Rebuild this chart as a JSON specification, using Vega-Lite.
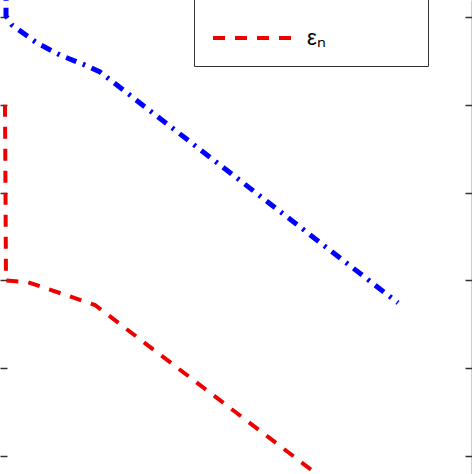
{
  "$schema": "https://vega.github.io/schema/vega-lite/v6.json",
  "width": 472,
  "height": 474,
  "autosize": {"type": "none"},
  "padding": 0,
  "background": "white",
  "config": {"view": {"stroke": null}},
  "data": {
    "values": [
      {"series": "ε", "x": 6, "y": 5.42},
      {"series": "ε", "x": 6, "y": 5.011},
      {"series": "ε", "x": 12, "y": 4.909},
      {"series": "ε", "x": 37, "y": 4.704},
      {"series": "ε", "x": 60, "y": 4.567},
      {"series": "ε", "x": 85, "y": 4.453},
      {"series": "ε", "x": 100, "y": 4.374},
      {"series": "ε", "x": 398, "y": 1.744},
      {"series": "εₙ", "x": 5, "y": 4.0},
      {"series": "εₙ", "x": 6, "y": 2.0},
      {"series": "εₙ", "x": 28, "y": 1.98},
      {"series": "εₙ", "x": 95, "y": 1.72},
      {"series": "εₙ", "x": 315, "y": -0.19},
      {"series": "εₙ", "x": 330, "y": -0.33}
    ]
  },
  "encoding": {
    "x": {"field": "x", "type": "quantitative", "scale": {"domain": [0, 472], "nice": false, "zero": false}, "axis": null},
    "color": {
      "field": "series", "type": "nominal",
      "scale": {"domain": ["ε", "εₙ"], "range": ["#0000ff", "#ee0000"]},
      "legend": {
        "values": ["εₙ"],
        "orient": "none",
        "legendX": 194,
        "legendY": -36,
        "title": "\u2800\u2800\u2800\u2800\u2800\u2800\u2800\u2800\u2800\u2800\u2800\u2800\u2800\u2800\u2800\u2800\u2800\u2800\u2800\u2800\u2800\u2800\u2800\u2800\u2800\u2800\u2800\u2800\u2800\u2800\u2800\u2800\u2800\u2800\u2800\u2800\u2800\u2800\u2800\u2800",
        "titleFontSize": 12,
        "titleFont": "DejaVu Sans",
        "titleColor": "white",
        "titleLimit": 205,
        "titlePadding": 29,
        "padding": 17,
        "strokeColor": "#333333",
        "fillColor": "white",
        "symbolType": "M-1,0H4.929",
        "symbolSize": 784,
        "symbolStrokeWidth": 4,
        "symbolFillColor": "transparent",
        "labelFontSize": 22,
        "labelFont": "Liberation Sans",
        "labelColor": "black",
        "labelOffset": 64
      }
    },
    "strokeDash": {
      "field": "series", "type": "nominal",
      "scale": {"domain": ["ε", "εₙ"], "range": [[11, 7, 2.5, 7], [12, 10]]}
    }
  },
  "layer": [
    {
      "transform": [{"filter": "datum.series === 'ε'"}],
      "mark": {"type": "line", "strokeWidth": 5, "strokeCap": "butt", "clip": true},
      "encoding": {
        "y": {
          "field": "y", "type": "quantitative",
          "scale": {"domain": [-0.205, 5.194], "nice": false, "zero": false},
          "axis": {"orient": "left", "values": [0, 1, 2, 3, 4, 5], "labels": false, "domain": false, "grid": false, "title": null, "tickSize": -7, "tickColor": "#333333", "tickWidth": 1.5}
        }
      }
    },
    {
      "transform": [{"filter": "datum.series === 'εₙ'"}],
      "mark": {"type": "line", "strokeWidth": 4, "strokeCap": "butt", "clip": true},
      "encoding": {
        "y": {
          "field": "y", "type": "quantitative",
          "scale": {"domain": [-0.205, 5.194], "nice": false, "zero": false},
          "axis": {"orient": "right", "values": [0, 1, 2, 3, 4, 5], "labels": false, "domain": true, "domainColor": "#333333", "domainWidth": 1.5, "grid": false, "title": null, "tickSize": -7, "tickColor": "#333333", "tickWidth": 1.5}
        }
      }
    }
  ],
  "resolve": {"axis": {"y": "independent"}}
}
